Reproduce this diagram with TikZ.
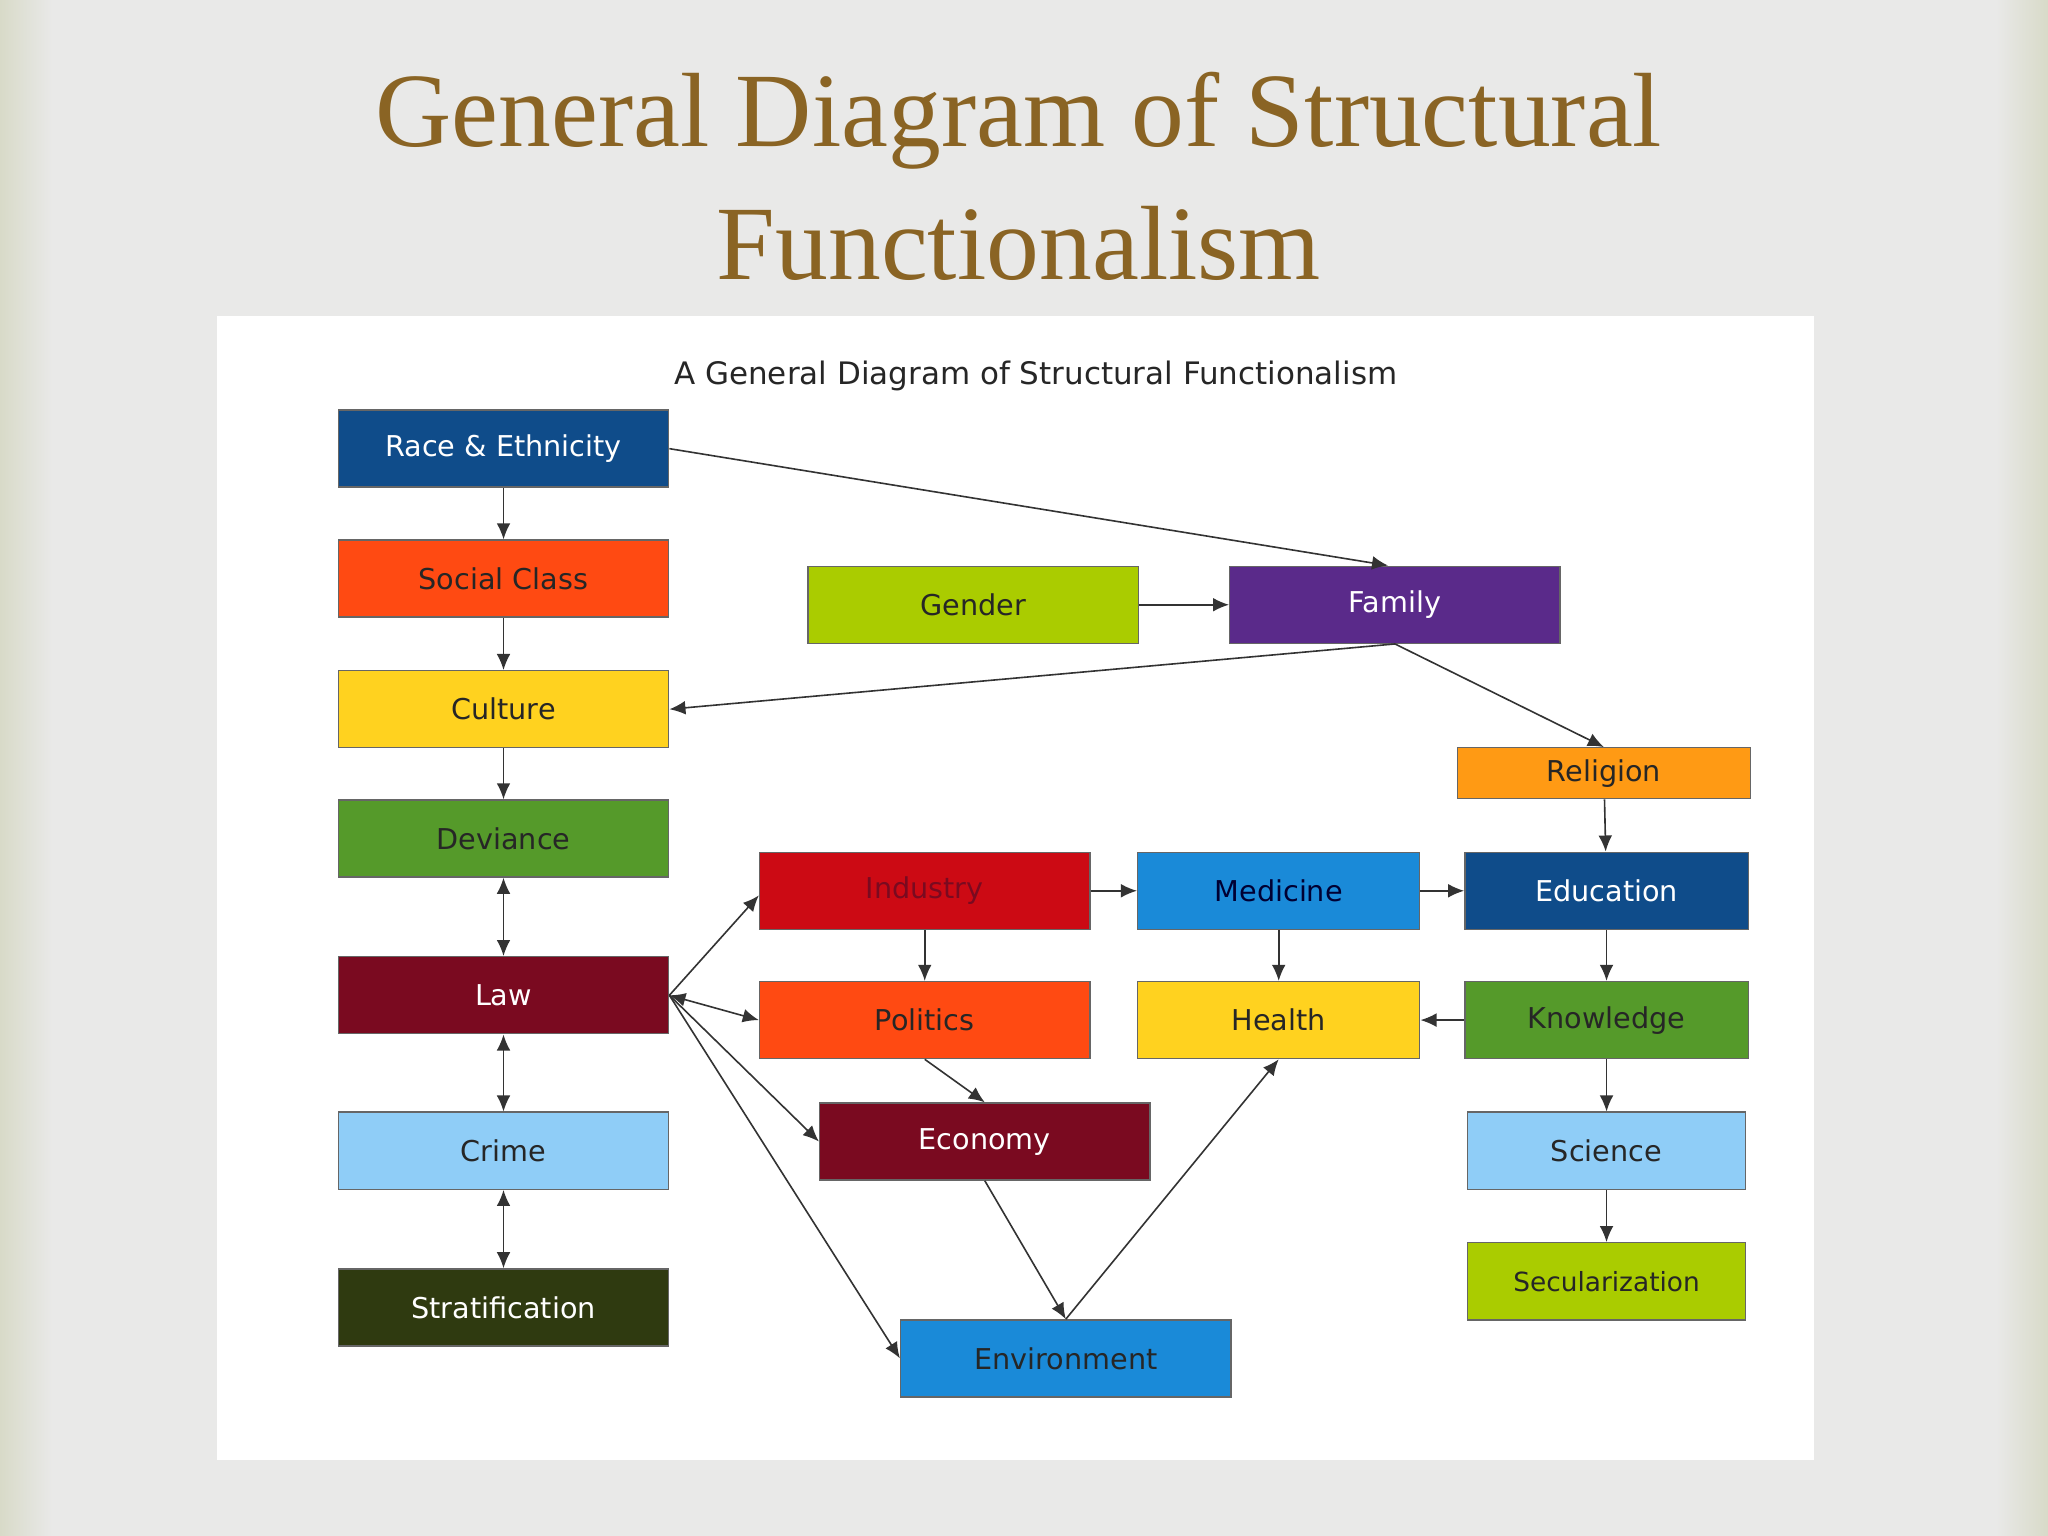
\documentclass[tikz,border=0pt]{standalone}
\usepackage{fontspec}
\setmainfont{DejaVu Sans}
\newfontfamily\titlefont{Liberation Serif}
\usetikzlibrary{arrows.meta}
\definecolor{bgc}{HTML}{E9E9E8}
\definecolor{edgec}{HTML}{D8DAC8}
\definecolor{titlec}{HTML}{8A6424}
\definecolor{cRace}{HTML}{0F4C8A}
\definecolor{cSocial}{HTML}{FF4A12}
\definecolor{cYellow}{HTML}{FFD21F}
\definecolor{cGreen}{HTML}{559A2A}
\definecolor{cMaroon}{HTML}{7A0A20}
\definecolor{cLight}{HTML}{8FCDF7}
\definecolor{cDark}{HTML}{2F3A10}
\definecolor{cLime}{HTML}{AACC00}
\definecolor{cPurple}{HTML}{5A2A8A}
\definecolor{cOrange}{HTML}{FF9A14}
\definecolor{cRed}{HTML}{CC0A14}
\definecolor{cBlue}{HTML}{1A8AD8}
\tikzset{
 bx/.style={draw=black!60, line width=0.6pt, minimum width=5.06cm, minimum height=1.18cm, inner sep=0pt, font=\fontsize{12.5}{14}\selectfont, text=black!85},
 wbx/.style={bx, text=white},
 arr/.style={-{Latex[length=7pt,width=6pt]}, line width=0.7pt, black!80},
 barr/.style={{Latex[length=7pt,width=6pt]}-{Latex[length=7pt,width=6pt]}, line width=0.7pt, black!80},
}
\begin{document}
\begin{tikzpicture}[x=0.02cm,y=-0.02cm]
\fill[bgc] (0,0) rectangle (1568,1176);
\fill[left color=edgec, right color=bgc] (0,0) rectangle (40,1176);
\fill[left color=bgc, right color=edgec] (1528,0) rectangle (1568,1176);
\useasboundingbox (0,0) rectangle (1568,1176);
\node[text=titlec, font=\titlefont\fontsize{46}{58}\selectfont, align=center] (title) at (780,135) {General Diagram of Structural\\Functionalism};
\fill[white] (166,242) rectangle (1389,1118);
\node[font=\fontsize{13.5}{16}\selectfont, text=black!85] (sub) at (793,288) {A General Diagram of Structural Functionalism};
\node[wbx, fill=cRace] (race) at (385.5,343.5) {Race \& Ethnicity};
\node[bx, fill=cSocial] (social) at (385.5,443) {Social Class};
\node[bx, fill=cYellow] (culture) at (385.5,543) {Culture};
\node[bx, fill=cGreen] (deviance) at (385.5,642) {Deviance};
\node[wbx, fill=cMaroon] (law) at (385.5,762) {Law};
\node[bx, fill=cLight] (crime) at (385.5,881) {Crime};
\node[wbx, fill=cDark] (strat) at (385.5,1001) {Stratification};
\node[bx, fill=cLime] (gender) at (745,463) {Gender};
\node[wbx, fill=cPurple] (family) at (1068,463) {Family};
\node[bx, fill=cOrange, minimum width=4.48cm, minimum height=0.78cm] (religion) at (1228,592) {Religion};
\node[bx, fill=cRed, text=cMaroon] (industry) at (708,682) {Industry};
\node[bx, fill=cBlue, minimum width=4.32cm, text=black!80!blue] (medicine) at (979,682) {Medicine};
\node[wbx, fill=cRace, minimum width=4.34cm] (education) at (1230,682) {Education};
\node[bx, fill=cSocial] (politics) at (708,781) {Politics};
\node[bx, fill=cYellow, minimum width=4.32cm] (health) at (979,781) {Health};
\node[bx, fill=cGreen, minimum width=4.34cm] (knowledge) at (1230,781) {Knowledge};
\node[wbx, fill=cMaroon] (economy) at (754,874) {Economy};
\node[bx, fill=cLight, minimum width=4.26cm] (science) at (1230,881) {Science};
\node[bx, fill=cLime, minimum width=4.26cm, font=\fontsize{11.5}{14}\selectfont] (secular) at (1230,981) {Secularization};
\node[bx, fill=cBlue] (env) at (816,1040) {Environment};
\draw[arr] (race) -- (social);
\draw[arr] (social) -- (culture);
\draw[arr] (culture) -- (deviance);
\draw[barr] (deviance) -- (law);
\draw[barr] (law) -- (crime);
\draw[barr] (crime) -- (strat);
\draw[arr] (race.east) -- ([xshift=-3]family.north);
\draw[arr] (gender) -- (family);
\draw[arr] (family.south) -- (culture.east);
\draw[arr] (family.south) -- (religion.north);
\draw[arr] (religion) -- (education);
\draw[arr] (industry) -- (medicine);
\draw[arr] (medicine) -- (education);
\draw[arr] (industry) -- (politics);
\draw[arr] (medicine) -- (health);
\draw[arr] (education) -- (knowledge);
\draw[arr] (knowledge) -- (health);
\draw[arr] (knowledge) -- (science);
\draw[arr] (science) -- (secular);
\draw[arr] (law.east) -- ([yshift=-2]industry.west);
\draw[barr] (law.east) -- (politics.west);
\draw[arr] (law.east) -- (economy.west);
\draw[arr] (law.east) -- (env.west);
\draw[arr] (politics.south) -- (economy.north);
\draw[arr] (economy.south) -- (env.north);
\draw[arr] (env.north) -- (health.south);
\end{tikzpicture}
\end{document}
